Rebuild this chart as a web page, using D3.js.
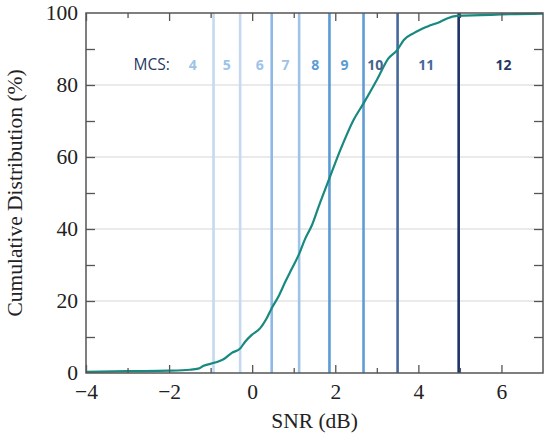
<!DOCTYPE html>
<html><head><meta charset="utf-8">
<script src="https://cdn.jsdelivr.net/npm/d3@7"></script>
<style>html,body{margin:0;padding:0;background:#fff;}svg{display:block;}</style>
</head><body>
<script>
// CDF curve: SNR (dB) vs cumulative %
const snr = [-4,-3,-2,-1.5,-1.3,-1.17,-0.89,-0.69,-0.49,-0.29,-0.17,-0.01,0.19,0.35,0.47,0.63,0.80,0.96,1.12,1.28,1.44,1.60,1.86,2.12,2.44,2.68,3.00,3.28,3.49,3.65,3.89,4.21,4.53,4.69,4.93,5.5,6,7];
const cdf = [0.3,0.5,0.65,0.9,1.2,2.0,2.9,3.8,5.6,6.8,8.7,10.6,12.4,15.2,18.0,21.2,25.4,29.1,32.8,37.4,41.1,46.2,54.1,61.9,70.3,74.9,81.4,87.4,89.7,92.5,94.4,96.2,97.6,98.5,99.2,99.4,99.6,99.8];
// MCS threshold lines
const thresholds = [-0.93,-0.29,0.47,1.13,1.86,2.68,3.5,4.97];
const thresholdColors = ["#c5d9f0","#c5d9f0","#8fb8e3","#9dc3e6","#5b9bd5","#5f9cd8","#46699c","#1c326a"];
// MCS labels
const mcsLabels = ["4","5","6","7","8","9","10","11","12"];
const mcsLabelX = [-1.43,-0.61,0.18,0.80,1.52,2.22,2.96,4.19,6.05];
const mcsLabelColors = ["#9dc3e6","#9dc3e6","#9dc3e6","#9dc3e6","#5b9bd5","#5b9bd5","#44638f","#44699b","#1f3864"];
const xTicks = [-4,-2,0,2,4,6];
const yTicks = [0,20,40,60,80,100];

const W=550,H=443;
const m={l:86,t:13,r:W-543,b:H-373};
const svg=d3.select("body").append("svg").attr("width",W).attr("height",H);
const x=d3.scaleLinear().domain([-4,7]).range([m.l,W-m.r]);
const y=d3.scaleLinear().domain([0,100]).range([H-m.b,m.t]);

// grid
svg.append("g").selectAll("line").data([20,40,60,80]).join("line")
 .attr("x1",x(-4)).attr("x2",x(7)).attr("y1",d=>y(d)).attr("y2",d=>y(d))
 .attr("stroke","#d6d6d6").attr("stroke-width",1.2);

// threshold lines
svg.append("g").selectAll("line").data(thresholds).join("line")
 .attr("x1",d=>x(d)).attr("x2",d=>x(d)).attr("y1",y(0)).attr("y2",y(100))
 .attr("stroke",(d,i)=>thresholdColors[i]).attr("stroke-width",2.6);

// curve
const pts=snr.map((s,i)=>[s,cdf[i]]);
svg.append("path").datum(pts)
 .attr("d",d3.line().x(d=>x(d[0])).y(d=>y(d[1])).curve(d3.curveMonotoneX))
 .attr("fill","none").attr("stroke","#17897f").attr("stroke-width",2.2);

// axes (ticks inward)
const serif="'Liberation Serif','DejaVu Serif',serif";
const frameColor="#555";
function styleAxis(g){
  g.select(".domain").remove();
  g.selectAll(".tick line").attr("stroke",frameColor).attr("stroke-width",1.3);
  g.selectAll(".tick text").attr("font-family",serif).attr("font-size",21.5).attr("fill","#222");
}
const xMinor=d3.range(-3,7,2);
// bottom major
svg.append("g").attr("transform",`translate(0,${y(0)})`)
 .call(d3.axisBottom(x).tickValues(xTicks).tickSize(-8).tickPadding(11).tickFormat(d=>d<0?"\u2212"+Math.abs(d):d))
 .call(styleAxis);
svg.append("g").attr("transform",`translate(0,${y(0)})`)
 .call(d3.axisBottom(x).tickValues(xMinor).tickSize(-5).tickFormat(""))
 .call(styleAxis);
// top
svg.append("g").attr("transform",`translate(0,${y(100)})`)
 .call(d3.axisTop(x).tickValues(xTicks).tickSize(-8).tickFormat(""))
 .call(styleAxis);
svg.append("g").attr("transform",`translate(0,${y(100)})`)
 .call(d3.axisTop(x).tickValues(xMinor).tickSize(-5).tickFormat(""))
 .call(styleAxis);
// left
svg.append("g").attr("transform",`translate(${x(-4)},0)`)
 .call(d3.axisLeft(y).tickValues(yTicks).tickSize(0).tickPadding(8))
 .call(styleAxis);
svg.append("g").attr("transform",`translate(${x(-4)},0)`)
 .call(d3.axisLeft(y).tickValues(d3.range(10,100,10)).tickSize(-9).tickFormat(""))
 .call(styleAxis);
// right
svg.append("g").attr("transform",`translate(${x(7)},0)`)
 .call(d3.axisRight(y).tickValues(d3.range(10,100,10)).tickSize(-9).tickFormat(""))
 .call(styleAxis);

// frame
svg.append("rect").attr("x",x(-4)).attr("y",y(100)).attr("width",x(7)-x(-4)).attr("height",y(0)-y(100))
 .attr("fill","none").attr("stroke",frameColor).attr("stroke-width",1.5);

// axis titles
svg.append("text").attr("x",(x(-4)+x(7))/2).attr("y",428).attr("text-anchor","middle")
 .attr("font-family",serif).attr("font-size",21.5).attr("fill","#222").text("SNR (dB)");
svg.append("text").attr("transform",`translate(22,${(y(0)+y(100))/2}) rotate(-90)`).attr("text-anchor","middle")
 .attr("font-family",serif).attr("font-size",21.5).attr("fill","#222").text("Cumulative Distribution (%)");

// MCS labels
const sans="'Open Sans','Noto Sans',sans-serif";
svg.append("text").attr("x",x(-2.42)).attr("y",y(84.2)).attr("text-anchor","middle")
 .attr("font-family",sans).attr("font-size",15.5).attr("fill","#1f3864").text("MCS:");
svg.append("g").selectAll("text").data(mcsLabels).join("text")
 .attr("x",(d,i)=>x(mcsLabelX[i])).attr("y",y(84.2)).attr("text-anchor","middle")
 .attr("font-family",sans).attr("font-weight","bold").attr("font-size",14)
 .attr("fill",(d,i)=>mcsLabelColors[i]).text(d=>d);
</script>
</body></html>
